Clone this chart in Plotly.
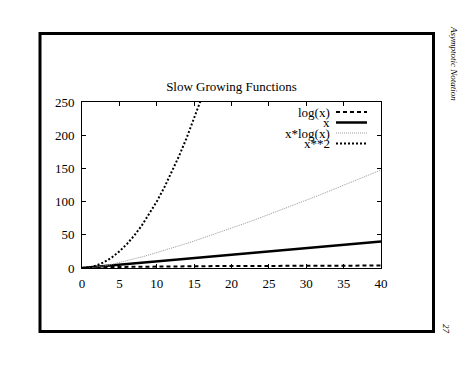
import plotly.graph_objects as go

# ---- data ----
x_int = list(range(1, 41))
log_vals = [0.00, 0.69, 1.10, 1.39, 1.61, 1.79, 1.95, 2.08, 2.20, 2.30,
            2.40, 2.48, 2.56, 2.64, 2.71, 2.77, 2.83, 2.89, 2.94, 3.00,
            3.04, 3.09, 3.14, 3.18, 3.22, 3.26, 3.30, 3.33, 3.37, 3.40,
            3.43, 3.47, 3.50, 3.53, 3.56, 3.58, 3.61, 3.64, 3.66, 3.69]
xlog_vals = [0.00, 1.39, 3.30, 5.55, 8.05, 10.75, 13.62, 16.64, 19.78, 23.03,
             26.38, 29.82, 33.34, 36.95, 40.62, 44.36, 48.16, 52.03, 55.94, 59.91,
             63.93, 68.00, 72.12, 76.27, 80.47, 84.71, 88.99, 93.30, 97.65, 102.04,
             106.45, 110.90, 115.39, 119.90, 124.44, 129.01, 133.60, 138.23, 142.88, 147.56]
x_lin = [0, 40]
lin_vals = [0, 40]
x_sq = list(range(0, 17))
sq_vals = [0, 1, 4, 9, 16, 25, 36, 49, 64, 81, 100, 121, 144, 169, 196, 225, 256]

series_names = ["log(x)", "x", "x*log(x)", "x**2"]
x_ticks = [0, 5, 10, 15, 20, 25, 30, 35, 40]
y_ticks = [0, 50, 100, 150, 200, 250]

# ---- styles ----
styles = [
    dict(color="black", width=2, dash="4px,3px"),
    dict(color="black", width=2.5, dash="solid"),
    dict(color="#999999", width=1, dash="1px,1px"),
    dict(color="black", width=2, dash="2px,2px"),
]
FONT = "Liberation Serif, Times New Roman, serif"

W, H = 474, 366
L, R, T, B = 82, 381, 102, 268


def px(xp):
    return (xp - L) / (R - L)


def py(yp):
    return (B - yp) / (B - T)


fig = go.Figure()
data = [(x_int, log_vals), (x_lin, lin_vals), (x_int, xlog_vals), (x_sq, sq_vals)]
for (xs, ys), name, st in zip(data, series_names, styles):
    fig.add_trace(go.Scatter(x=xs, y=ys, mode="lines", name=name, line=st,
                             showlegend=False, cliponaxis=True, hoverinfo="skip"))

axis_common = dict(showline=True, linecolor="black", linewidth=1, mirror="ticks",
                   ticks="inside", ticklen=4, tickwidth=1, tickcolor="black",
                   showgrid=False, zeroline=False,
                   tickfont=dict(family=FONT, size=13, color="black"))
fig.update_xaxes(range=[0, 40], tickvals=x_ticks, ticklabelstandoff=3, **axis_common)
fig.update_yaxes(range=[0, 250], tickvals=y_ticks, ticklabelstandoff=4, **axis_common)

shapes = []
annotations = []
# custom gnuplot-style legend (text right, sample on right)
row_y = [112, 122.5, 133, 143.5]
for name, st, ry in zip(series_names, styles, row_y):
    annotations.append(dict(text=name, x=px(331), y=py(ry), xref="paper", yref="paper",
                            xanchor="right", yanchor="middle", showarrow=False,
                            borderpad=0,
                            font=dict(family=FONT, size=13, color="black")))
    shapes.append(dict(type="line", xref="paper", yref="paper",
                       x0=px(336), x1=px(367), y0=py(ry), y1=py(ry),
                       line=st))

# slide frame
shapes.append(dict(type="rect", xref="paper", yref="paper",
                   x0=px(40), x1=px(433.5), y0=py(33.5), y1=py(331.5),
                   line=dict(color="black", width=3), layer="above"))

annotations.append(dict(text="<i>Asymptotic Notation</i>", x=px(454), y=py(63), xref="paper",
                        yref="paper", textangle=90, showarrow=False,
                        font=dict(family=FONT, size=9, color="black"),
                        xanchor="center", yanchor="middle"))
annotations.append(dict(text="<i>27</i>", x=px(453), y=py(336), xref="paper", yref="paper",
                        textangle=90, showarrow=False,
                        font=dict(family=FONT, size=9, color="black")))

fig.update_layout(
    width=W, height=H,
    margin=dict(l=L, r=W - R, t=T, b=H - B, pad=0),
    paper_bgcolor="white", plot_bgcolor="white",
    title=dict(text="Slow Growing Functions", x=0.5, xref="paper",
               y=1 - 86 / H, yref="container", yanchor="middle", xanchor="center",
               font=dict(family=FONT, size=13, color="black")),
    shapes=shapes, annotations=annotations, showlegend=False,
)

fig.write_html("out.html", config={"displayModeBar": False},
               post_script="document.body.style.margin='0px';document.body.style.padding='0px';")
